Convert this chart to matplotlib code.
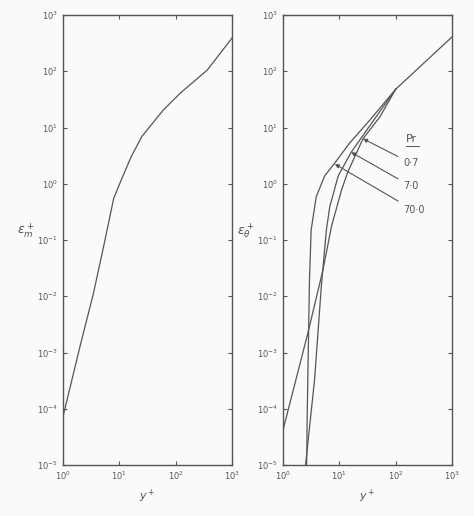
import numpy as np
from matplotlib import pyplot as plt

# log10 coordinates
left_x = [0, 0.30, 0.54, 0.72, 0.90, 1.01, 1.21, 1.40, 1.78, 2.08, 2.56, 3.0]
left_y = [-4.14, -2.90, -1.95, -1.12, -0.26, 0.01, 0.48, 0.84, 1.31, 1.61, 2.02, 2.59]

pr07_x = [0, 0.44, 0.71, 0.86, 1.04, 1.15, 1.42, 1.72, 2.0]
pr07_y = [-4.38, -2.66, -1.53, -0.76, -0.11, 0.21, 0.8, 1.19, 1.68]
pr7_x = [0.40, 0.56, 0.68, 0.77, 0.83, 0.98, 1.21, 1.54, 2.0]
pr7_y = [-5.0, -3.49, -1.83, -0.82, -0.41, 0.14, 0.56, 1.03, 1.68]
pr70_x = [0.42, 0.43, 0.47, 0.50, 0.59, 0.74, 0.92, 1.18, 1.54, 2.0]
pr70_y = [-5.0, -4.08, -1.71, -0.82, -0.23, 0.14, 0.37, 0.72, 1.13, 1.68]
common_x = [2.0, 3.0]
common_y = [1.68, 2.61]

pr_labels = ["0·7", "7·0", "70·0"]
arrow_pts = [(1.42, 0.8), (1.21, 0.56), (0.92, 0.35)]
text_pts = [(2.13, 0.37), (2.13, -0.04), (2.13, -0.47)]

ink = "#555555"
fig = plt.figure(figsize=(4.74, 5.16), dpi=100)
fig.patch.set_facecolor("#fafafa")
ax1 = fig.add_axes([63 / 474, 51 / 516, 169 / 474, 450 / 516])
ax2 = fig.add_axes([283 / 474, 51 / 516, 169 / 474, 450 / 516])

def p(v):
    return 10 ** np.array(v)

ax1.plot(p(left_x), p(left_y), color=ink, lw=0.9)
ax2.plot(p(pr07_x), p(pr07_y), color=ink, lw=0.9)
ax2.plot(p(pr7_x), p(pr7_y), color=ink, lw=0.9)
ax2.plot(p(pr70_x), p(pr70_y), color=ink, lw=0.9)
ax2.plot(p(common_x), p(common_y), color=ink, lw=0.9)

for lab, a, t in zip(pr_labels, arrow_pts, text_pts):
    ax2.annotate(lab, xy=p(a), xytext=p(t), fontsize=7, color=ink,
                 va="center", ha="left",
                 arrowprops=dict(arrowstyle="-|>", color=ink, lw=0.8,
                                 mutation_scale=6, shrinkB=0))
ax2.text(10 ** 2.18, 10 ** 0.8, "Pr", fontsize=8, color=ink, ha="left", va="center")
ax2.plot(p([2.18, 2.42]), p([0.68, 0.68]), color=ink, lw=0.7)

for ax, lab in [(ax1, r"$\epsilon_m^+$"), (ax2, r"$\epsilon_\theta^+$")]:
    ax.set_xscale("log")
    ax.set_yscale("log")
    ax.set_xlim(1, 1e3)
    ax.set_ylim(1e-5, 1e3)
    ax.set_facecolor("#fafafa")
    ax.set_xticks([1, 10, 100, 1000])
    ax.set_yticks([10.0 ** k for k in range(-5, 4)])
    ax.minorticks_off()
    ax.tick_params(direction="in", top=True, right=True, labelsize=6,
                   colors=ink, length=3)
    for s in ax.spines.values():
        s.set_color(ink)
        s.set_linewidth(1.0)
    ax.set_xlabel(r"$y^+$", color=ink, fontsize=8)
    ax.set_ylabel(lab, color=ink, fontsize=9, rotation=0, labelpad=8)

plt.savefig("out.png")
